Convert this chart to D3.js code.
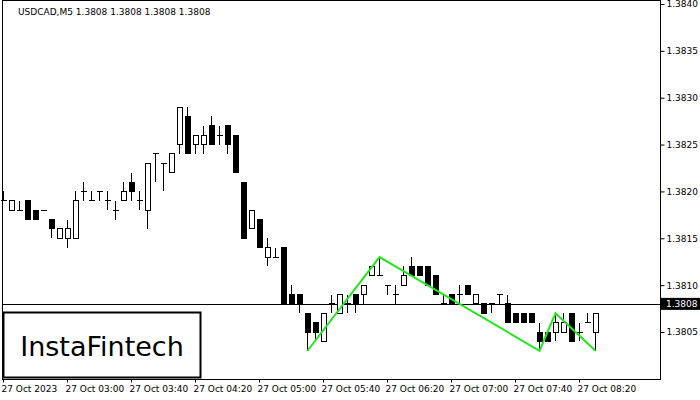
<!DOCTYPE html>
<html><head><meta charset="utf-8">
<script src="https://cdn.jsdelivr.net/npm/d3@7"></script>
<style>body{margin:0;background:#fff}text{font-family:"DejaVu Sans",sans-serif}</style>
</head><body><svg id="chart" width="700" height="400"></svg>
<script>
// candles as [open, high, low, close]
var candles = [
 [1.3819,1.3820,1.3819,1.3819],[1.3818,1.3819,1.3818,1.3819],[1.3818,1.3819,1.3818,1.3818],[1.3819,1.3819,1.3817,1.3817],
 [1.3818,1.3818,1.3817,1.3817],[1.3818,1.3818,1.3818,1.3818],[1.3817,1.3817,1.3815,1.3816],[1.3815,1.3816,1.3815,1.3816],
 [1.3815,1.3817,1.3814,1.3816],[1.3815,1.3820,1.3815,1.3819],[1.3820,1.3821,1.3819,1.3820],[1.3819,1.3820,1.3819,1.3819],
 [1.3820,1.3820,1.3819,1.3820],[1.3819,1.3820,1.3818,1.3819],[1.3818,1.3819,1.3817,1.3818],[1.3819,1.3821,1.3819,1.3820],
 [1.3821,1.3822,1.3819,1.3820],[1.3819,1.3820,1.3818,1.3819],[1.3818,1.3823,1.3816,1.3823],[1.3824,1.3824,1.3821,1.3824],
 [1.3823,1.3823,1.3820,1.3823],[1.3822,1.3824,1.3822,1.3824],[1.3825,1.3829,1.3824,1.3829],[1.3828,1.3829,1.3824,1.3824],
 [1.3825,1.3826,1.3824,1.3826],[1.3825,1.3827,1.3824,1.3826],[1.3827,1.3828,1.3825,1.3825],[1.3826,1.3827,1.3825,1.3826],
 [1.3827,1.3827,1.3824,1.3825],[1.3826,1.3826,1.3822,1.3822],[1.3821,1.3821,1.3815,1.3815],[1.3816,1.3818,1.3816,1.3818],
 [1.3817,1.3817,1.3814,1.3814],[1.3813,1.3815,1.3812,1.3814],[1.3813,1.3814,1.3813,1.3813],[1.3814,1.3814,1.3808,1.3808],
 [1.3809,1.3810,1.3808,1.3808],[1.3809,1.3809,1.3807,1.3808],[1.3807,1.3807,1.3803,1.3805],[1.3806,1.3806,1.3804,1.3805],
 [1.3804,1.3807,1.3804,1.3807],[1.3808,1.3809,1.3807,1.3808],[1.3807,1.3809,1.3807,1.3809],[1.3808,1.3809,1.3807,1.3808],
 [1.3809,1.3809,1.3807,1.3808],[1.3809,1.3810,1.3808,1.3810],[1.3811,1.3812,1.3811,1.3812],[1.3811,1.3813,1.3811,1.3811],
 [1.3810,1.3810,1.3809,1.3810],[1.3809,1.3810,1.3808,1.3809],[1.3810,1.3812,1.3810,1.3811],[1.3812,1.3813,1.3811,1.3811],
 [1.3812,1.3812,1.3811,1.3811],[1.3812,1.3812,1.3810,1.3810],[1.3811,1.3811,1.3809,1.3809],[1.3808,1.3809,1.3808,1.3808],
 [1.3809,1.3809,1.3808,1.3808],[1.3809,1.3810,1.3808,1.3809],[1.3810,1.3810,1.3809,1.3809],[1.3808,1.3809,1.3808,1.3809],
 [1.3808,1.3808,1.3807,1.3807],[1.3808,1.3808,1.3807,1.3808],[1.3809,1.3809,1.3808,1.3809],[1.3808,1.3809,1.3806,1.3806],
 [1.3807,1.3807,1.3806,1.3806],[1.3807,1.3807,1.3806,1.3806],[1.3807,1.3807,1.3806,1.3806],[1.3805,1.3806,1.3803,1.3804],
 [1.3805,1.3805,1.3804,1.3804],[1.3805,1.3807,1.3804,1.3806],[1.3805,1.3807,1.3805,1.3806],[1.3807,1.3807,1.3804,1.3804],
 [1.3805,1.3806,1.3804,1.3805],[1.3806,1.3807,1.3806,1.3806],[1.3805,1.3807,1.3803,1.3807]
];
// pattern line: [candle index, price]
var pattern = [[38,1.3803],[47,1.3813],[67,1.3803],[69,1.3807],[74,1.3803]];
var priceTicks = [1.3805,1.3810,1.3815,1.3820,1.3825,1.3830,1.3835,1.3840];
var timeLabels = ["27 Oct 2023","27 Oct 03:00","27 Oct 03:40","27 Oct 04:20","27 Oct 05:00","27 Oct 05:40","27 Oct 06:20","27 Oct 07:00","27 Oct 07:40","27 Oct 08:20"];
var lastPrice = 1.3808;

var svg = d3.select("#chart");
var x = d3.scaleLinear().domain([0, 1]).range([3, 11]);
var y = d3.scaleLinear().domain([1.3805, 1.3840]).range([332, 4]);

// frame
svg.append("rect").attr("x", 2.5).attr("y", 0.5).attr("width", 658).attr("height", 379)
  .attr("fill", "none").attr("stroke", "#000");

// price axis
var yAxis = d3.axisRight(y).tickValues(priceTicks).tickSize(4).tickFormat(d3.format(".4f"));
svg.append("g").attr("transform", "translate(660.5,0)").call(yAxis)
  .call(g => g.select(".domain").remove())
  .selectAll("text").attr("font-size", 9).attr("x", 6);

// time axis
var tAxis = d3.axisBottom(x).tickValues(d3.range(timeLabels.length).map(i => i * 8))
  .tickSize(3).tickFormat((d, i) => timeLabels[i]);
svg.append("g").attr("transform", "translate(0,379.5)").call(tAxis)
  .call(g => g.select(".domain").remove())
  .selectAll("text").attr("font-size", 9).attr("text-anchor", "start").attr("dx", -2).attr("y", 6);

// current price line
svg.append("line").attr("x1", 2).attr("x2", 660).attr("y1", Math.round(y(lastPrice)) + 0.5).attr("y2", Math.round(y(lastPrice)) + 0.5)
  .attr("stroke", "#000");

// candles
var g = svg.append("g").attr("shape-rendering", "crispEdges");
candles.forEach(function (c, i) {
  var cx = Math.round(x(i)) + 0.5;
  g.append("line").attr("x1", cx).attr("x2", cx).attr("y1", y(c[1])).attr("y2", y(c[2])).attr("stroke", "#000");
  var top = y(Math.max(c[0], c[3])), bot = y(Math.min(c[0], c[3]));
  if (bot - top < 1) {
    g.append("line").attr("x1", cx - 3).attr("x2", cx + 3).attr("y1", top).attr("y2", top).attr("stroke", "#000");
  } else {
    g.append("rect").attr("x", cx - 2.5).attr("y", top).attr("width", 5).attr("height", bot - top)
      .attr("fill", c[3] >= c[0] ? "#fff" : "#000").attr("stroke", "#000");
  }
});

// pattern
svg.append("path").datum(pattern)
  .attr("d", d3.line().x(d => x(d[0]) + 0.5).y(d => y(d[1])))
  .attr("fill", "none").attr("stroke", "#22e61e").attr("stroke-width", 2);

// last price label
svg.append("rect").attr("x", 661).attr("y", y(lastPrice) - 6).attr("width", 39).attr("height", 12).attr("fill", "#000");
svg.append("text").attr("x", 666).attr("y", y(lastPrice) + 3.5).attr("fill", "#fff").attr("font-size", 9).text("1.3808");

// title
svg.append("text").attr("x", 18).attr("y", 15).attr("font-size", 9)
  .text("USDCAD,M5  1.3808 1.3808 1.3808 1.3808");

// logo
svg.append("rect").attr("x", 3.5).attr("y", 312.5).attr("width", 197).attr("height", 65)
  .attr("fill", "#fff").attr("stroke", "#000").attr("stroke-width", 2);
svg.append("text").attr("x", 102).attr("y", 356).attr("text-anchor", "middle")
  .attr("font-size", 27).attr("font-family", "Roboto, sans-serif").text("InstaFintech");
</script></body></html>
